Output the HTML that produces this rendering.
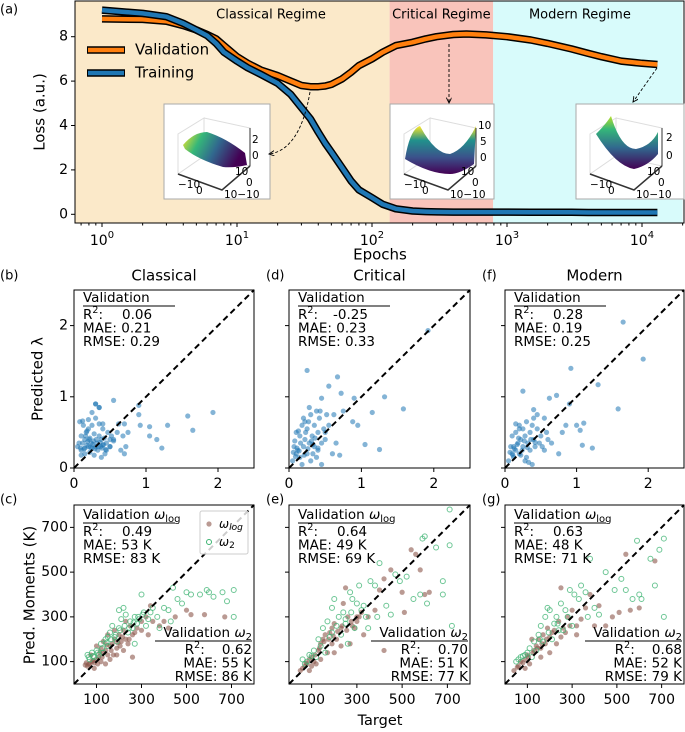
<!DOCTYPE html>
<html><head><meta charset="utf-8"><style>
body{margin:0;background:#fff;}
svg{display:block;font-family:"DejaVu Sans","Liberation Sans",sans-serif;}
</style></head><body>
<svg id="fig" width="685" height="732" viewBox="0 0 685 732" xmlns="http://www.w3.org/2000/svg">
<defs>
<linearGradient id="vir1" x1="0" y1="0" x2="1" y2="0.3"><stop offset="0" stop-color="#fde725"/><stop offset="0.3" stop-color="#35b779"/><stop offset="0.6" stop-color="#31688e"/><stop offset="1" stop-color="#440154"/></linearGradient>
<linearGradient id="vir2" x1="0" y1="1" x2="0" y2="0"><stop offset="0" stop-color="#440154"/><stop offset="0.35" stop-color="#3b528b"/><stop offset="0.7" stop-color="#21918c"/><stop offset="1" stop-color="#fde725"/></linearGradient>
<linearGradient id="vir3" x1="0" y1="1" x2="0" y2="0"><stop offset="0" stop-color="#440154"/><stop offset="0.4" stop-color="#31688e"/><stop offset="0.75" stop-color="#35b779"/><stop offset="1" stop-color="#b5de2b"/></linearGradient>
<marker id="arr" markerWidth="8" markerHeight="8" refX="6" refY="3" orient="auto"><path d="M0,0 L6,3 L0,6" fill="none" stroke="#000" stroke-width="1"/></marker>
</defs>
</svg>
<script>
const svg=document.getElementById('fig');
const NS='http://www.w3.org/2000/svg';
function el(tag,attrs,parent){const e=document.createElementNS(NS,tag);for(const k in attrs)e.setAttribute(k,attrs[k]);(parent||svg).appendChild(e);return e;}
function txt(x,y,s,size,anchor,parent){const t=el('text',{x:x,y:y,'font-size':size,'text-anchor':anchor||'start','dominant-baseline':'middle',fill:'#000'},parent);t.textContent=s;return t;}

// ===== Panel (a) data =====
const epochs=[1,2,3,4,5,6,7,8,10,12,15,20,25,30,35,40,45,50,60,70,80,100,120,150,200,250,300,400,500,700,1000,1500,2000,3000,4000,5000,7000,10000,13000];
const valLoss=[8.8,8.78,8.7,8.5,8.3,8.1,7.9,7.6,7.1,6.8,6.5,6.25,6.0,5.8,5.75,5.75,5.78,5.85,6.1,6.4,6.7,7.0,7.3,7.6,7.75,7.9,8.0,8.1,8.12,8.08,8.0,7.85,7.7,7.45,7.25,7.1,6.9,6.8,6.75];
const trainLoss=[9.2,9.05,8.9,8.6,8.3,8.05,7.7,7.3,6.9,6.6,6.3,5.9,5.4,4.8,4.3,3.7,3.2,2.8,2.1,1.5,1.1,0.75,0.45,0.25,0.15,0.12,0.11,0.1,0.1,0.1,0.1,0.09,0.09,0.09,0.08,0.08,0.08,0.08,0.08];
const lossTicks=[0,2,4,6,8];
const regimeEdges=[0.62,135,790,20000];
const regimeNames=['Classical Regime','Critical Regime','Modern Regime'];

function ax(e){return 102+135*Math.log10(e);}
function ay(v){return 214.3-22.2*v;}
const AL=75,AR=684,AT=1,AB=223;
const regimeColors=['#fbe9c9','#f9c4bb','#d8fbfb'];
const regG=el('g',{});


for(let i=0;i<3;i++){
  const x0=Math.max(AL,ax(regimeEdges[i])),x1=Math.min(AR,ax(regimeEdges[i+1]));
  const r=el('rect',{x:x0,y:AT,width:x1-x0,height:AB-AT,fill:regimeColors[i]},regG);
  
  
  const t=txt(i==0?271:(x0+x1)/2-(i==2?8:0),15,regimeNames[i],13,'middle',regG);
  
  
}
function linePts(xs,ys){return xs.map((e,i)=>ax(e).toFixed(1)+','+ay(ys[i]).toFixed(1)).join(' ');}
[[valLoss,'#ff7f0e','validation-line'],[trainLoss,'#1f77b4','training-line']].forEach(s=>{
  const g=el('g',{});
  
  
  el('polyline',{points:linePts(epochs,s[0]),fill:'none',stroke:'#000','stroke-width':7.5,'stroke-linejoin':'round'},g);
  el('polyline',{points:linePts(epochs,s[0]),fill:'none',stroke:s[1],'stroke-width':4.5,'stroke-linejoin':'round'},g);
});
const fa=el('rect',{x:AL,y:AT,width:AR-AL,height:AB-AT,fill:'none',stroke:'#000','stroke-width':1});


lossTicks.forEach(v=>{
  el('line',{x1:AL-4,x2:AL,y1:ay(v),y2:ay(v),stroke:'#000'});
  const t=txt(AL-7,ay(v),String(v),14,'end');
  
  
});
for(let d=-1;d<=4;d++){
  for(let m=1;m<10;m++){
    const e=Math.pow(10,d)*m,x=ax(e);
    if(x<AL||x>AR)continue;
    el('line',{x1:x,x2:x,y1:AB,y2:AB+(m==1?4:2.5),stroke:'#000'});
  }
  if(d>=0){
    const t=el('text',{x:ax(Math.pow(10,d)),y:241,'font-size':14,'text-anchor':'middle','dominant-baseline':'middle'});
    t.innerHTML='10<tspan dy="-6" font-size="10">'+d+'</tspan>';
    
    
  }
}
let t0=txt(380,255,'Epochs',15,'middle');


t0=txt(0,0,'Loss (a.u.)',15,'middle');t0.setAttribute('transform','translate(40,112) rotate(-90)');


t0=txt(0,10,'(a)',13,'start');


[['Validation','#ff7f0e',50],['Training','#1f77b4',73]].forEach((l,i)=>{
  const g=el('g',{});
  
  
  el('line',{x1:87,x2:125,y1:l[2],y2:l[2],stroke:'#000','stroke-width':7.5},g);
  el('line',{x1:88,x2:124,y1:l[2],y2:l[2],stroke:l[1],'stroke-width':4.5},g);
  txt(135,l[2],l[0],15,'start',g);
});
function inset(x0,x1,name,surf,grad,zlabels){
  const g=el('g',{transform:`translate(${x0},104)`});
  
  
  const w=x1-x0;
  el('rect',{x:0,y:0,width:w,height:95,fill:'#fff',stroke:'#aaa','stroke-width':1},g);
  el('path',{d:'M14,30 L40,14 L40,52 L14,70 Z M40,14 L86,24 L86,62 L40,52',fill:'none',stroke:'#ddd'},g);
  el('path',{d:surf,fill:'url(#'+grad+')'},g);
  el('path',{d:'M14,70 L58,86 L86,62',fill:'none',stroke:'#333','stroke-width':1.5},g);
  el('line',{x1:86,y1:24,x2:86,y2:62,stroke:'#333'},g);
  zlabels.forEach(z=>txt(z[1],z[2],z[0],10.5,'start',g));
  txt(71,68,'10',10.5,'start',g);txt(82,79,'0',10.5,'start',g);
  txt(14,81,'\u221210',10.5,'start',g);txt(32,87,'0',10.5,'start',g);
  txt(60,91,'10\u221210',10.5,'start',g);
}
inset(164,270,'inset-surface-classical','M19,41 Q30,28 43,28 Q62,34 81,49 L83,61 Q70,64 59,63 Q35,56 21,45 Z','vir1',[['2',88,36],['0',88,52]]);
inset(390,494,'inset-surface-critical','M15,55 Q20,25 30,22 Q45,50 60,50 Q75,45 86,22 L84,60 Q70,70 60,70 Q40,70 15,55 Z','vir2',[['10',88,22],['5',90,38],['0',90,54]]);
inset(576,684,'inset-surface-modern','M20,30 Q30,20 35,12 Q45,45 60,45 Q75,42 82,28 L82,50 Q72,62 58,65 Q40,62 20,30 Z','vir3',[['2',90,34],['0',90,52]]);
[['M310,92 Q300,150 269,154'],['M449,44 L449,103'],['M657,68 L633,102']].forEach((a,i)=>{
  const p=el('path',{d:a[0],fill:'none',stroke:'#000','stroke-width':0.9,'stroke-dasharray':'3,2','marker-end':'url(#arr)'});
  
  
});

// ===== Panels b,d,f data (target, predicted lambda) =====
const bX=[0.05,0.08,0.1,0.1,0.12,0.13,0.15,0.15,0.17,0.18,0.2,0.2,0.22,0.22,0.24,0.25,0.25,0.27,0.28,0.3,0.3,0.32,0.33,0.35,0.35,0.37,0.38,0.4,0.4,0.42,0.43,0.45,0.47,0.5,0.5,0.52,0.55,0.3,0.35,0.2,0.25,0.15,0.1,0.28,0.45,0.38,0.9,0.9,0.92,1.05,1.05,1.15,1.22,1.3,1.58,1.65,1.93,0.55,0.3,0.35,0.7,0.75,0.68,0.72,0.65,0.7,0.6,0.55,0.5,0.62,0.12,0.18,0.4,0.07,0.14,0.19,0.23,0.26,0.29,0.31,0.34,0.36,0.39,0.41,0.44,0.16,0.21,0.09];
const bY=[0.3,0.65,0.25,0.45,0.35,0.6,0.28,0.4,0.5,0.32,0.3,0.55,0.22,0.42,0.35,0.28,0.6,0.38,0.48,0.3,0.7,0.35,0.25,0.45,0.62,0.3,0.4,0.32,0.55,0.42,0.2,0.35,0.5,0.3,0.4,0.45,0.38,0.9,0.85,0.68,0.78,0.2,0.18,0.18,0.25,0.15,0.88,0.75,0.6,0.58,0.45,0.4,0.28,0.6,0.73,0.53,0.78,0.95,0.9,0.85,0.62,0.5,0.45,0.3,0.25,0.2,0.5,0.4,0.3,0.62,0.66,0.52,0.62,0.35,0.27,0.37,0.29,0.33,0.27,0.4,0.3,0.36,0.28,0.33,0.26,0.45,0.4,0.28];
const dX=[0.05,0.07,0.1,0.1,0.12,0.15,0.15,0.18,0.2,0.2,0.22,0.25,0.25,0.28,0.3,0.3,0.32,0.35,0.35,0.38,0.4,0.4,0.42,0.45,0.45,0.48,0.5,0.52,0.55,0.18,0.22,0.28,0.33,0.38,0.43,0.08,0.13,0.27,0.25,0.67,0.55,0.72,0.9,1.32,1.15,1.58,0.88,0.95,1.05,1.25,1.92,0.6,0.7,0.65,0.45,0.5,0.4,0.75,0.62,0.06,0.11,0.16,0.21,0.26,0.31,0.36,0.14,0.09,0.23,0.33];
const dY=[0.1,0.3,0.2,0.5,0.25,0.15,0.45,0.6,0.3,0.7,0.4,0.2,0.55,0.35,0.1,0.75,0.45,0.3,0.6,0.8,0.25,0.5,0.7,0.35,0.98,0.55,0.4,0.75,0.6,0.05,0.65,0.85,0.2,0.15,0.8,0.38,0.52,0.65,1.37,1.28,1.15,1.05,0.98,1.0,0.78,0.83,0.65,0.6,0.33,0.26,1.93,0.2,0.18,0.35,0.05,0.5,0.28,0.8,0.75,0.22,0.28,0.35,0.18,0.27,0.38,0.42,0.24,0.16,0.5,0.33];
const fX=[0.05,0.08,0.1,0.1,0.12,0.15,0.15,0.18,0.2,0.2,0.22,0.25,0.25,0.28,0.3,0.3,0.32,0.35,0.35,0.38,0.4,0.4,0.42,0.45,0.48,0.5,0.52,0.55,0.58,0.6,0.15,0.22,0.28,0.33,0.4,0.12,0.45,1.65,1.93,0.92,1.3,0.25,0.62,0.72,1.58,0.9,1.1,1.0,1.05,0.85,1.08,1.22,0.75,0.65,0.8,0.55,0.38,0.2,0.07,0.13,0.17,0.24,0.27,0.31,0.36,0.42,0.19,0.11];
const fY=[0.1,0.3,0.2,0.45,0.3,0.25,0.5,0.35,0.2,0.6,0.4,0.3,0.55,0.45,0.15,0.65,0.35,0.5,0.25,0.6,0.4,0.7,0.3,0.55,0.35,0.45,0.3,0.25,0.5,0.4,0.62,0.18,0.1,0.08,0.82,0.15,0.75,2.05,1.53,1.4,1.17,1.08,0.98,1.02,0.83,0.9,0.63,0.6,0.53,0.6,0.32,0.28,0.2,0.35,0.5,0.7,0.05,0.55,0.22,0.27,0.33,0.25,0.38,0.29,0.4,0.36,0.42,0.18];
// ===== Panels c,e,g data (target K, predicted K) =====
const cLogX=[50,60,70,80,90,100,110,120,130,140,150,160,170,180,190,200,210,220,230,240,250,260,280,300,320,340,350,380,400,450,500,520,580,670,130,160,190,220,260,300,150,100,75,120,230,180,90,140,330,420,55,65,85,105,115,125,145,165,175,195,205,215,245,270];
const cLogY=[85,80,90,100,95,110,120,100,140,150,130,170,180,200,160,220,190,240,200,180,260,220,250,280,300,350,280,260,280,300,330,310,310,300,190,110,130,150,120,240,220,170,130,160,280,240,70,90,220,250,95,88,105,90,140,120,175,150,130,185,170,210,200,230];
const c2X=[60,70,80,90,100,120,140,150,160,180,200,210,220,230,250,270,290,300,310,330,350,370,400,420,440,460,480,500,520,560,590,600,620,660,680,710,710,260,190,240,130,110,170,200,320,380,430,280,150,270,65,85,105,125,145,165,185,205,225,245,265,285,305,340];
const c2Y=[130,110,140,120,150,180,200,170,230,210,250,290,340,310,280,300,290,400,320,290,340,300,340,330,430,380,360,410,400,400,420,410,390,410,370,420,300,250,190,230,140,130,260,330,260,250,280,270,210,180,120,125,140,160,185,200,220,240,260,250,275,300,310,320];
const eLogX=[50,70,80,90,100,110,130,140,150,160,180,190,200,210,230,250,260,280,300,320,350,380,400,420,450,500,510,540,560,580,600,620,170,120,90,230,270,330,420,200,240,300,140,100,190,60,75,115,135,155,175,195,215,235,255,275,290,310];
const eLogY=[60,80,90,110,120,100,150,180,200,220,230,250,270,200,250,430,300,260,280,320,300,330,420,470,510,410,320,600,580,510,400,410,140,90,60,170,180,220,150,140,360,300,110,80,180,70,95,130,160,190,200,215,235,260,240,280,250,300];
const e2X=[60,80,90,110,130,150,170,190,200,220,240,250,270,280,300,310,330,340,360,380,390,400,430,450,470,490,520,550,580,590,600,610,650,680,680,710,710,720,160,230,290,190,260,120,350,70,100,140,180,210,250,275,320];
const e2Y=[110,100,130,150,200,250,280,340,380,300,320,270,410,380,360,440,350,300,460,440,300,540,350,310,490,460,480,380,400,650,660,360,610,460,400,620,780,260,140,220,250,230,180,120,250,90,125,170,210,260,290,320,330];
const gLogX=[40,60,70,90,100,110,130,140,150,160,170,180,190,200,220,240,250,260,280,300,320,340,360,380,400,420,450,480,510,540,560,600,670,120,90,160,230,270,320,200,55,80,105,125,145,165,185,210,250,290];
const gLogY=[60,80,100,110,130,90,150,170,200,160,220,180,250,210,240,280,430,250,300,330,260,290,340,400,260,350,260,300,320,580,330,340,550,200,70,120,180,230,220,140,75,95,120,140,160,180,200,230,210,260];
const g2X=[50,70,90,110,130,150,160,180,190,200,220,230,250,270,290,310,330,340,360,370,380,400,420,450,490,520,540,570,590,600,610,650,670,690,710,710,140,240,210,300,170,260,120,60,80,100,155,195,235,280];
const g2Y=[100,120,130,160,190,220,260,300,340,330,270,300,360,330,420,400,380,440,410,300,560,340,310,500,420,470,420,380,640,400,380,560,440,600,650,300,150,240,200,260,190,240,120,110,125,140,200,230,270,300];

const cols=[[74,254],[289,470],[505,684]];
function scatterPanel(ci,top,bot,max,name){
  const x0=cols[ci][0],x1=cols[ci][1];
  const sx=v=>x0+v/max*(x1-x0), sy=v=>bot-v/max*(bot-top);
  const g=el('g',{});
  
  
  return {g,sx,sy,x0,x1,top,bot};
}
function frame(P,max,ticks,labelY){
  el('line',{x1:P.sx(0),y1:P.sy(0),x2:P.sx(max),y2:P.sy(max),stroke:'#000','stroke-width':2,'stroke-dasharray':'6,4'},P.g);
  el('rect',{x:P.x0,y:P.top,width:P.x1-P.x0,height:P.bot-P.top,fill:'none',stroke:'#000'},P.g);
  ticks.forEach(v=>{
    el('line',{x1:P.sx(v),x2:P.sx(v),y1:P.bot,y2:P.bot+4,stroke:'#000'},P.g);
    el('line',{x1:P.x0-4,x2:P.x0,y1:P.sy(v),y2:P.sy(v),stroke:'#000'},P.g);
    const tx=txt(P.sx(v),P.bot+16,String(v),14,'middle',P.g);
    
    
    if(labelY){const ty=txt(P.x0-6,P.sy(v),String(v),14,'end',P.g);
      
      }
  });
}
function dots(P,xs,ys,style,name){
  xs.forEach((x,i)=>{
    const c=el('circle',Object.assign({cx:P.sx(x),cy:P.sy(ys[i])},style),P.g);
    
    
  });
}
function statBlock(g,x,y,title,vals,right,w){
  const lines=[['R2',vals[0]],['MAE:',vals[1]],['RMSE:',vals[2]]];
  const tt=el('text',{x:x,y:y,'font-size':13.5,'text-anchor':right?'end':'start','dominant-baseline':'middle'},g);
  tt.innerHTML=title;
  const ulx=right?x-w:x;
  el('line',{x1:ulx,x2:ulx+w,y1:y+8,y2:y+8,stroke:'#000','stroke-width':1},g);
  lines.forEach((l,i)=>{
    const yy=y+17+i*13.5;
    if(right){
      const t=el('text',{x:x,y:yy,'font-size':13.5,'text-anchor':'end','dominant-baseline':'middle'},g);
      if(i==0)t.innerHTML='R<tspan dy="-5" font-size="9.5">2</tspan><tspan dy="5">:&#160;&#160;&#160;&#160;'+l[1]+'</tspan>';
      else t.textContent=l[0]+' '+l[1];
    } else {
      const t=el('text',{x:x,y:yy,'font-size':13.5,'dominant-baseline':'middle'},g);
      if(i==0){t.innerHTML='R<tspan dy="-5" font-size="9.5">2</tspan><tspan dy="5">:</tspan>';txt(x+(vals[0][0]=='-'?35:39),yy,l[1],13.5,'start',g);}
      else t.textContent=l[0]+' '+l[1];
    }
  });
}
const rowB=[[bX,bY,'Classical','(b)',['0.06','0.21','0.29']],[dX,dY,'Critical','(d)',['-0.25','0.23','0.33']],[fX,fY,'Modern','(f)',['0.28','0.19','0.25']]];
rowB.forEach((r,i)=>{
  const P=scatterPanel(i,290,468,2.5,'lambda-panel-'+r[2].toLowerCase());
  dots(P,r[0],r[1],{r:2.6,fill:'#1f77b4','fill-opacity':0.55},'lambda-point');
  frame(P,2.5,[0,1,2],i==0);
  txt((P.x0+P.x1)/2,276,r[2],15,'middle',P.g);
  txt(P.x0-(i==0?74:23),276,r[3],13,'start',P.g);
  statBlock(P.g,P.x0+9,298,'Validation',r[4],false,92);
});
const rowC=[[cLogX,cLogY,c2X,c2Y,'(c)',['0.49','53 K','83 K'],['0.62','55 K','86 K']],[eLogX,eLogY,e2X,e2Y,'(e)',['0.64','49 K','69 K'],['0.70','51 K','77 K']],[gLogX,gLogY,g2X,g2Y,'(g)',['0.63','48 K','71 K'],['0.68','52 K','79 K']]];
rowC.forEach((r,i)=>{
  const P=scatterPanel(i,505,684,800,'moments-panel-'+i);
  dots(P,r[0],r[1],{r:2.6,fill:'#8c564b','fill-opacity':0.6},'omega-log-point');
  dots(P,r[2],r[3],{r:2.5,fill:'none',stroke:'#3cb371','stroke-opacity':0.75,'stroke-width':1},'omega2-point');
  frame(P,800,[100,300,500,700],i==0);
  txt(P.x0-(i==0?74:23),500,r[4],13,'start',P.g);
  statBlock(P.g,P.x0+9,515,'Validation <tspan font-style="italic">ω</tspan><tspan dy="4" font-size="10">log</tspan>',r[5],false,92);
  statBlock(P.g,P.x1-2,633,'Validation <tspan font-style="italic">ω</tspan><tspan dy="4" font-size="10">2</tspan>',r[6],true,97);
  if(i==0){
    const lg=el('g',{});
    
    
    el('rect',{x:200,y:511,width:48,height:43,fill:'#fff','fill-opacity':0.8,stroke:'#ccc',rx:2},lg);
    el('circle',{cx:209,cy:524,r:2.6,fill:'#8c564b','fill-opacity':0.6},lg);
    el('circle',{cx:209,cy:542,r:2.5,fill:'none',stroke:'#3cb371','stroke-width':1},lg);
    let a=el('text',{x:219,y:524,'font-size':12,'dominant-baseline':'middle'},lg);a.innerHTML='<tspan font-style="italic">ω</tspan><tspan dy="3" font-size="9" font-style="italic">log</tspan>';
    a=el('text',{x:219,y:542,'font-size':12,'dominant-baseline':'middle'},lg);a.innerHTML='<tspan font-style="italic">ω</tspan><tspan dy="3" font-size="9">2</tspan>';
  }
});
let t1=txt(0,0,'Predicted λ',15,'middle');t1.setAttribute('transform','translate(38,379) rotate(-90)');


t1=txt(0,0,'Pred. Moments (K)',15,'middle');t1.setAttribute('transform','translate(30,595) rotate(-90)');


t1=txt(380,721,'Target',14.5,'middle');


</script>
</body></html>
